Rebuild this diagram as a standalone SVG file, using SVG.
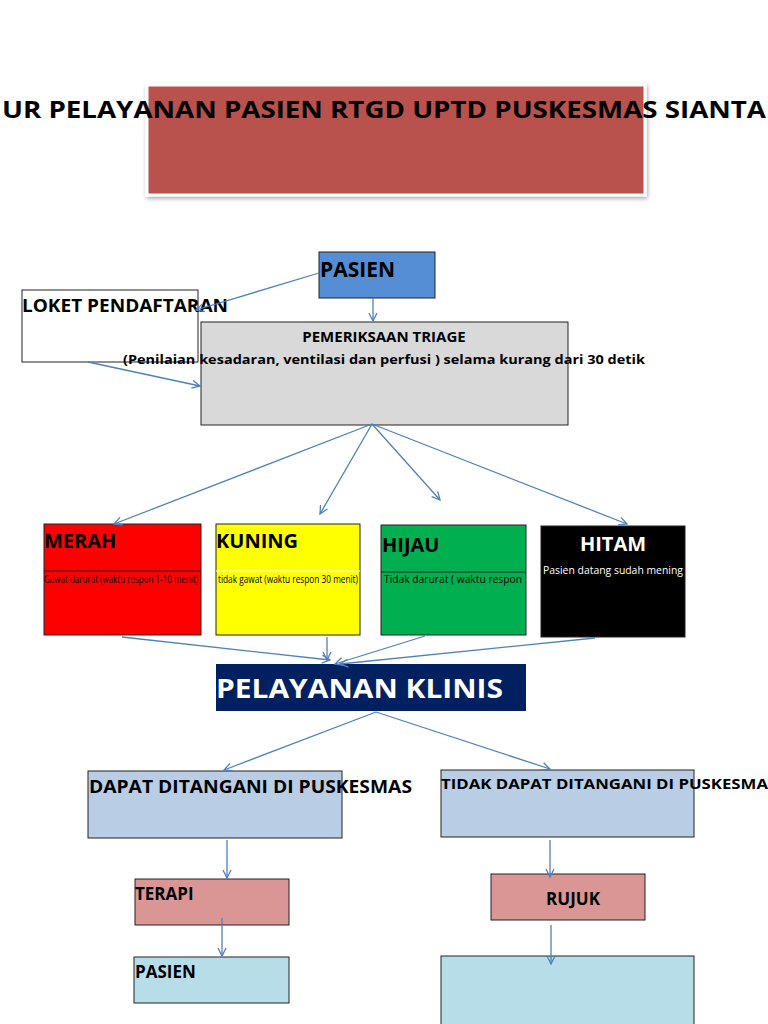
<svg xmlns="http://www.w3.org/2000/svg" width="768" height="1024" viewBox="0 0 768 1024">
<defs>
<marker id="a" markerWidth="10" markerHeight="10" refX="9" refY="5" orient="auto" markerUnits="userSpaceOnUse"><path d="M1,1 L9,5 L1,9" fill="none" stroke="#4f81bd" stroke-width="1.3"/></marker>
<filter id="sh"><feDropShadow dx="1" dy="2" stdDeviation="2" flood-opacity="0.35"/></filter>
</defs>
<style>
text{font-family:"Open Sans","Liberation Sans",sans-serif;font-weight:bold;fill:#000}
.b{stroke:#222;stroke-width:1}
.c line{stroke:#4f81bd;stroke-width:1.3;marker-end:url(#a)}
.s{font-size:10px;font-weight:normal}
</style>
<rect width="768" height="1024" fill="#fff"/>
<g id="title">
<rect x="147" y="85" width="498" height="110" fill="#b9514e" stroke="#fff" stroke-width="3" filter="url(#sh)"/>
<text x="2" y="118" font-size="24" textLength="764" lengthAdjust="spacingAndGlyphs">UR PELAYANAN PASIEN RTGD  UPTD PUSKESMAS SIANTA</text>
</g>
<g id="pasien"><rect class="b" x="319" y="252" width="116" height="46" fill="#558ed5"/><text x="320" y="277" font-size="21">PASIEN</text></g>
<g id="loket"><rect class="b" x="22" y="290" width="176" height="72" fill="#fff"/><text x="22" y="312" font-size="17" textLength="206" lengthAdjust="spacingAndGlyphs">LOKET PENDAFTARAN</text></g>
<g id="triage"><rect class="b" x="201" y="322" width="367" height="103" fill="#d9d9d9"/><text x="384" y="342" font-size="15" text-anchor="middle">PEMERIKSAAN TRIAGE</text><text x="123" y="364" font-size="13" textLength="522" lengthAdjust="spacingAndGlyphs">(Penilaian kesadaran, ventilasi dan perfusi ) selama kurang dari 30 detik</text></g>
<g id="merah"><rect class="b" x="44" y="524" width="157" height="111" fill="#ff0000"/><line x1="44" y1="571" x2="201" y2="571" stroke="#222"/><text x="44" y="548" font-size="20">MERAH</text><text class="s" x="44" y="583" textLength="154" lengthAdjust="spacingAndGlyphs">Gawat darurat (waktu respon 1-10 menit)</text></g>
<g id="kuning"><rect class="b" x="216" y="524" width="144" height="111" fill="#ffff00"/><line x1="216" y1="571" x2="360" y2="571" stroke="#fff"/><text x="216" y="548" font-size="20">KUNING</text><text class="s" x="218" y="583" textLength="140" lengthAdjust="spacingAndGlyphs">tidak gawat (waktu respon 30 menit)</text></g>
<g id="hijau"><rect class="b" x="381" y="525" width="145" height="110" fill="#00b050"/><line x1="381" y1="572" x2="526" y2="572" stroke="#222"/><text x="382" y="552" font-size="20">HIJAU</text><text class="s" x="384" y="583" textLength="138" lengthAdjust="spacingAndGlyphs">Tidak darurat ( waktu respon</text></g>
<g id="hitam"><rect class="b" x="541" y="526" width="144" height="111" fill="#000"/><text x="613" y="551" font-size="20" text-anchor="middle" style="fill:#fff">HITAM</text><text class="s" x="543" y="574" style="fill:#fff" textLength="140" lengthAdjust="spacingAndGlyphs">Pasien datang sudah mening</text></g>
<g id="klinis"><rect x="216" y="664" width="310" height="47" fill="#002060"/><text x="216" y="698" font-size="27" style="fill:#fff" textLength="287" lengthAdjust="spacingAndGlyphs">PELAYANAN  KLINIS</text></g>
<g id="dapat"><rect class="b" x="88" y="771" width="254" height="67" fill="#b9cde5"/><text x="89" y="793" font-size="17" textLength="323" lengthAdjust="spacingAndGlyphs">DAPAT DITANGANI DI PUSKESMAS</text></g>
<g id="tidak"><rect class="b" x="441" y="770" width="253" height="67" fill="#b9cde5"/><text x="441" y="789" font-size="15" textLength="327" lengthAdjust="spacingAndGlyphs">TIDAK DAPAT DITANGANI DI PUSKESMA</text></g>
<g id="terapi"><rect class="b" x="135" y="879" width="154" height="46" fill="#d99694"/><text x="135" y="900" font-size="17">TERAPI</text></g>
<g id="rujuk"><rect class="b" x="491" y="874" width="154" height="46" fill="#d99694"/><text x="573" y="905" font-size="17" text-anchor="middle">RUJUK</text></g>
<g id="pasien2"><rect class="b" x="134" y="957" width="155" height="46" fill="#b7dee8"/><text x="135" y="978" font-size="17">PASIEN</text></g>
<g id="box"><rect class="b" x="441" y="956" width="253" height="80" fill="#b7dee8"/></g>
<g class="c">
<line x1="319" y1="273" x2="196" y2="310"/>
<line x1="373" y1="299" x2="373" y2="321"/>
<line x1="88" y1="362" x2="200" y2="386"/>
<line x1="372" y1="424" x2="114" y2="524"/>
<line x1="372" y1="424" x2="320" y2="514"/>
<line x1="372" y1="424" x2="440" y2="500"/>
<line x1="372" y1="424" x2="627" y2="524"/>
<line x1="122" y1="637" x2="330" y2="660"/>
<line x1="327" y1="637" x2="327" y2="660"/>
<line x1="425" y1="636" x2="335" y2="664"/>
<line x1="595" y1="638" x2="340" y2="664"/>
<line x1="376" y1="712" x2="224" y2="770"/>
<line x1="376" y1="712" x2="550" y2="769"/>
<line x1="227" y1="840" x2="227" y2="878"/>
<line x1="222" y1="918" x2="222" y2="956"/>
<line x1="550" y1="840" x2="550" y2="877"/>
<line x1="551" y1="925" x2="551" y2="964"/>
</g>
</svg>
